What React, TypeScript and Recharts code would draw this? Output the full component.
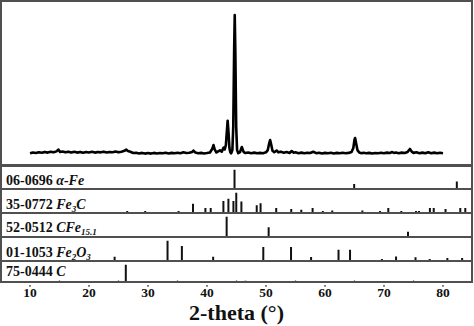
import React from 'react';
import { LineChart, Line, BarChart, Bar, XAxis, YAxis } from 'recharts';

// ---- measured XRD pattern (2-theta, intensity %) ----
const scanPattern: [number, number][] = [
  [10.0, 1.3], [10.5, 1.8], [11.0, 1.4], [11.5, 2.0], [12.0, 1.6], [12.5, 2.2], [13.0, 1.7], [13.5, 2.3],
  [14.0, 1.9], [14.5, 2.6], [14.8, 3.9], [15.1, 2.2], [15.5, 2.5], [16.0, 1.9], [16.5, 2.4], [17.0, 1.8],
  [17.5, 2.3], [18.0, 1.7], [18.5, 2.2], [19.0, 1.6], [19.5, 2.1], [20.0, 1.8], [20.5, 2.3], [21.0, 1.7],
  [21.5, 2.2], [22.0, 1.9], [22.5, 2.4], [23.0, 1.8], [23.5, 2.2], [24.0, 2.0], [24.5, 2.5], [25.0, 1.9],
  [25.5, 2.4], [26.0, 3.0], [26.3, 3.8], [26.6, 2.9], [27.0, 2.3], [27.5, 1.4], [28.0, 1.6], [28.5, 1.1],
  [29.0, 1.5], [29.5, 1.0], [30.0, 1.4], [30.5, 1.0], [31.0, 1.5], [31.5, 1.1], [32.0, 1.4], [32.5, 1.2],
  [33.0, 1.6], [33.5, 1.1], [34.0, 1.5], [34.5, 1.2], [35.0, 1.6], [35.5, 1.3], [36.0, 1.9], [36.5, 1.4],
  [37.0, 1.6], [37.5, 2.2], [37.7, 3.2], [38.0, 1.8], [38.5, 1.3], [39.0, 1.5], [39.5, 1.1], [40.0, 1.4],
  [40.5, 1.8], [40.9, 4.5], [41.1, 7.1], [41.3, 4.0], [41.6, 1.8], [41.9, 2.6], [42.2, 3.4], [42.5, 2.4],
  [42.8, 5.2], [43.0, 4.0], [43.2, 7.0], [43.35, 16.0], [43.5, 24.5], [43.65, 16.0], [43.8, 5.0], [43.95, 2.0],
  [44.1, 1.2], [44.3, 3.5], [44.45, 20.0], [44.6, 75.0], [44.7, 100.0], [44.8, 75.0], [44.95, 20.0], [45.1, 3.5],
  [45.3, 1.3], [45.6, 2.0], [45.9, 5.7], [46.2, 2.2], [46.5, 1.4], [47.0, 1.8], [47.5, 1.3], [48.0, 1.7],
  [48.5, 1.2], [49.0, 1.5], [49.5, 1.3], [50.0, 1.9], [50.3, 3.5], [50.55, 8.5], [50.7, 10.7], [50.85, 8.0],
  [51.1, 3.0], [51.4, 2.0], [51.8, 3.2], [52.1, 1.9], [52.5, 2.4], [53.0, 1.6], [53.5, 2.1], [54.0, 1.5],
  [54.35, 2.8], [54.7, 1.6], [55.0, 1.9], [55.5, 1.3], [56.0, 1.7], [56.5, 1.2], [57.0, 1.6], [57.5, 1.4],
  [58.0, 2.3], [58.5, 1.3], [59.0, 1.6], [59.5, 1.1], [60.0, 1.5], [60.5, 1.2], [61.0, 1.6], [61.5, 1.1],
  [62.0, 1.5], [62.5, 1.2], [63.0, 1.6], [63.5, 1.3], [64.0, 1.5], [64.5, 2.2], [64.8, 5.0], [65.0, 11.0],
  [65.1, 12.1], [65.25, 9.0], [65.5, 3.5], [65.8, 1.8], [66.2, 1.3], [66.5, 1.6], [67.0, 1.2], [67.5, 1.5],
  [68.0, 1.1], [68.5, 1.4], [69.0, 1.2], [69.5, 1.6], [70.0, 1.3], [70.5, 1.7], [71.0, 1.4], [71.3, 2.1],
  [71.7, 1.5], [72.0, 1.8], [72.5, 1.3], [73.0, 1.7], [73.5, 1.4], [74.0, 2.2], [74.4, 4.3], [74.7, 2.4],
  [75.0, 1.5], [75.5, 1.9], [76.0, 1.3], [76.5, 1.7], [77.0, 1.2], [77.5, 2.0], [78.0, 1.3], [78.5, 1.7],
  [79.0, 1.2], [79.5, 1.6], [80.0, 1.3],
];

// ---- reference cards (2-theta, relative intensity) ----
const alphaFeSticks: [number, number][] = [[44.72, 100], [65.0, 22], [82.4, 35]];
const fe3cSticks: [number, number][] = [
  [26.55, 5], [29.6, 5], [35.25, 5], [37.7, 42], [39.8, 21], [40.7, 21], [42.85, 57], [43.7, 68],
  [44.55, 57], [45.03, 100], [45.9, 54], [48.5, 34], [49.15, 45], [51.8, 20], [54.35, 15], [56.05, 11],
  [57.97, 20], [59.7, 5], [61.3, 8], [66.4, 8], [69.4, 5], [70.8, 20], [73.0, 5], [75.5, 5], [76.0, 5],
  [77.85, 20], [78.5, 20], [80.5, 15], [83.0, 20], [83.85, 20],
];
const cfeSticks: [number, number][] = [[43.33, 100], [50.45, 45], [74.07, 22]];
const fe2o3Sticks: [number, number][] = [
  [24.3, 17], [33.27, 100], [35.7, 72], [41.0, 17], [49.5, 67], [54.2, 67], [57.6, 15], [62.25, 53],
  [64.2, 53], [69.6, 5], [72.0, 18], [75.3, 14], [77.7, 5], [80.7, 10], [83.2, 10],
];
const carbonSticks: [number, number][] = [
  [26.27, 100], [46.55, 12], [49.15, 8], [54.2, 8], [59.0, 6], [65.65, 6], [82.2, 6], [84.3, 6],
];

const axisTicks = [10, 15, 20, 25, 30, 35, 40, 45, 50, 55, 60, 65, 70, 75, 80];
const axisTitle = '2-theta (°)';

const W = 474;
const X_DOMAIN: [number, number] = [5, 85];
const FONT = '"Liberation Serif", "Times New Roman", serif';
const BORDER = '#505050';
const MARGIN_X = { left: 0.5, right: 1.5 };

const toRows = (arr: [number, number][]) => arr.map(([a, v]) => ({ a, v }));

const AxisTick = (props: any) => {
  const { x, y, payload } = props;
  const v = payload.value;
  const major = v % 10 === 0;
  return (
    <g>
      {major ? (
        <line x1={x} x2={x} y1={y + 2} y2={y + 3.8} stroke="#333" strokeWidth={1.3} />
      ) : (
        <line x1={x} x2={x} y1={y} y2={y - 2.5} stroke="#333" strokeWidth={1.3} />
      )}
      {major && (
        <text x={x} y={y + 13.5} textAnchor="middle" fontFamily={FONT} fontWeight="bold" fontSize={13.5} fill="#111">
          {v}
        </text>
      )}
    </g>
  );
};

type PanelDef = { sticks: [number, number][]; top: number; height: number };

const panels: PanelDef[] = [
  { sticks: alphaFeSticks, top: 165, height: 25 },
  { sticks: fe3cSticks, top: 188, height: 26 },
  { sticks: cfeSticks, top: 212, height: 26 },
  { sticks: fe2o3Sticks, top: 236, height: 26 },
  { sticks: carbonSticks, top: 260, height: 23 },
];

const AXIS_H = 45;

export default function App() {
  return (
    <div style={{ position: 'absolute', left: 0, top: 0, width: W, height: 326, background: '#fff', overflow: 'hidden' }}>
      {/* top measured pattern */}
      <div style={{ position: 'absolute', left: 0, top: 0 }}>
        <LineChart width={W} height={166} data={toRows(scanPattern)} margin={{ top: 2, bottom: 2, ...MARGIN_X }}>
          <XAxis dataKey="a" type="number" domain={X_DOMAIN} hide allowDataOverflow />
          <YAxis type="number" domain={[-6.43, 109.3]} hide allowDataOverflow />
          <Line
            dataKey="v"
            type="linear"
            stroke="#000"
            strokeWidth={2.6}
            strokeLinejoin="round"
            dot={false}
            isAnimationActive={false}
          />
        </LineChart>
      </div>

      {/* stick panels */}
      {panels.map((p, idx) => {
        const last = idx === panels.length - 1;
        const h = last ? 326 - p.top : p.height;
        return (
          <div key={idx} style={{ position: 'absolute', left: 0, top: p.top }}>
            <BarChart
              width={W}
              height={h}
              data={toRows(p.sticks)}
              margin={{ top: 4.5, bottom: last ? 0 : 2, ...MARGIN_X }}
              barCategoryGap={0}
            >
              {last ? (
                <XAxis
                  dataKey="a"
                  type="number"
                  domain={X_DOMAIN}
                  allowDataOverflow
                  ticks={axisTicks}
                  interval={0}
                  axisLine={false}
                  tickLine={false}
                  tickSize={0}
                  tickMargin={0}
                  tick={<AxisTick />}
                  height={AXIS_H - 2}
                  label={{
                    value: axisTitle,
                    position: 'insideBottom',
                    offset: 6.5,
                    style: { fontFamily: FONT, fontWeight: 'bold', fontSize: 22, fill: '#111' },
                  }}
                />
              ) : (
                <XAxis dataKey="a" type="number" domain={X_DOMAIN} hide allowDataOverflow />
              )}
              <YAxis type="number" domain={[0, 100]} hide allowDataOverflow />
              <Bar dataKey="v" fill="#111" barSize={2} isAnimationActive={false} />
            </BarChart>
          </div>
        );
      })}

      {/* panel frames */}
      <div style={{ position: 'absolute', left: 0, top: 0, width: 473, height: 166, border: `2px solid ${BORDER}`, boxSizing: 'border-box' }} />
      {panels.map((p, idx) => (
        <div
          key={'f' + idx}
          style={{ position: 'absolute', left: 0, top: p.top, width: 473, height: p.height, border: `2px solid ${BORDER}`, boxSizing: 'border-box' }}
        />
      ))}

      {/* card labels */}
      <svg width={W} height={326} style={{ position: 'absolute', left: 0, top: 0, pointerEvents: 'none' }}>
        <g fontFamily={FONT} fontWeight="bold" fontSize={14} fill="#111">
          <text x={6} y={184.5}>
            06-0696 <tspan fontStyle="italic">α-Fe</tspan>
          </text>
          <text x={6} y={208.5}>
            35-0772 <tspan fontStyle="italic">Fe</tspan>
            <tspan fontStyle="italic" fontSize={9} dy={3}>3</tspan>
            <tspan fontStyle="italic" dy={-3}>C</tspan>
          </text>
          <text x={6} y={232.3}>
            52-0512 <tspan fontStyle="italic">CFe</tspan>
            <tspan fontStyle="italic" fontSize={9} dy={3}>15.1</tspan>
          </text>
          <text x={6} y={256.5}>
            01-1053 <tspan fontStyle="italic">Fe</tspan>
            <tspan fontStyle="italic" fontSize={9} dy={3}>2</tspan>
            <tspan fontStyle="italic" dy={-3}>O</tspan>
            <tspan fontStyle="italic" fontSize={9} dy={3}>3</tspan>
          </text>
          <text x={6} y={276.3}>
            75-0444 <tspan fontStyle="italic">C</tspan>
          </text>
        </g>
      </svg>
    </div>
  );
}
